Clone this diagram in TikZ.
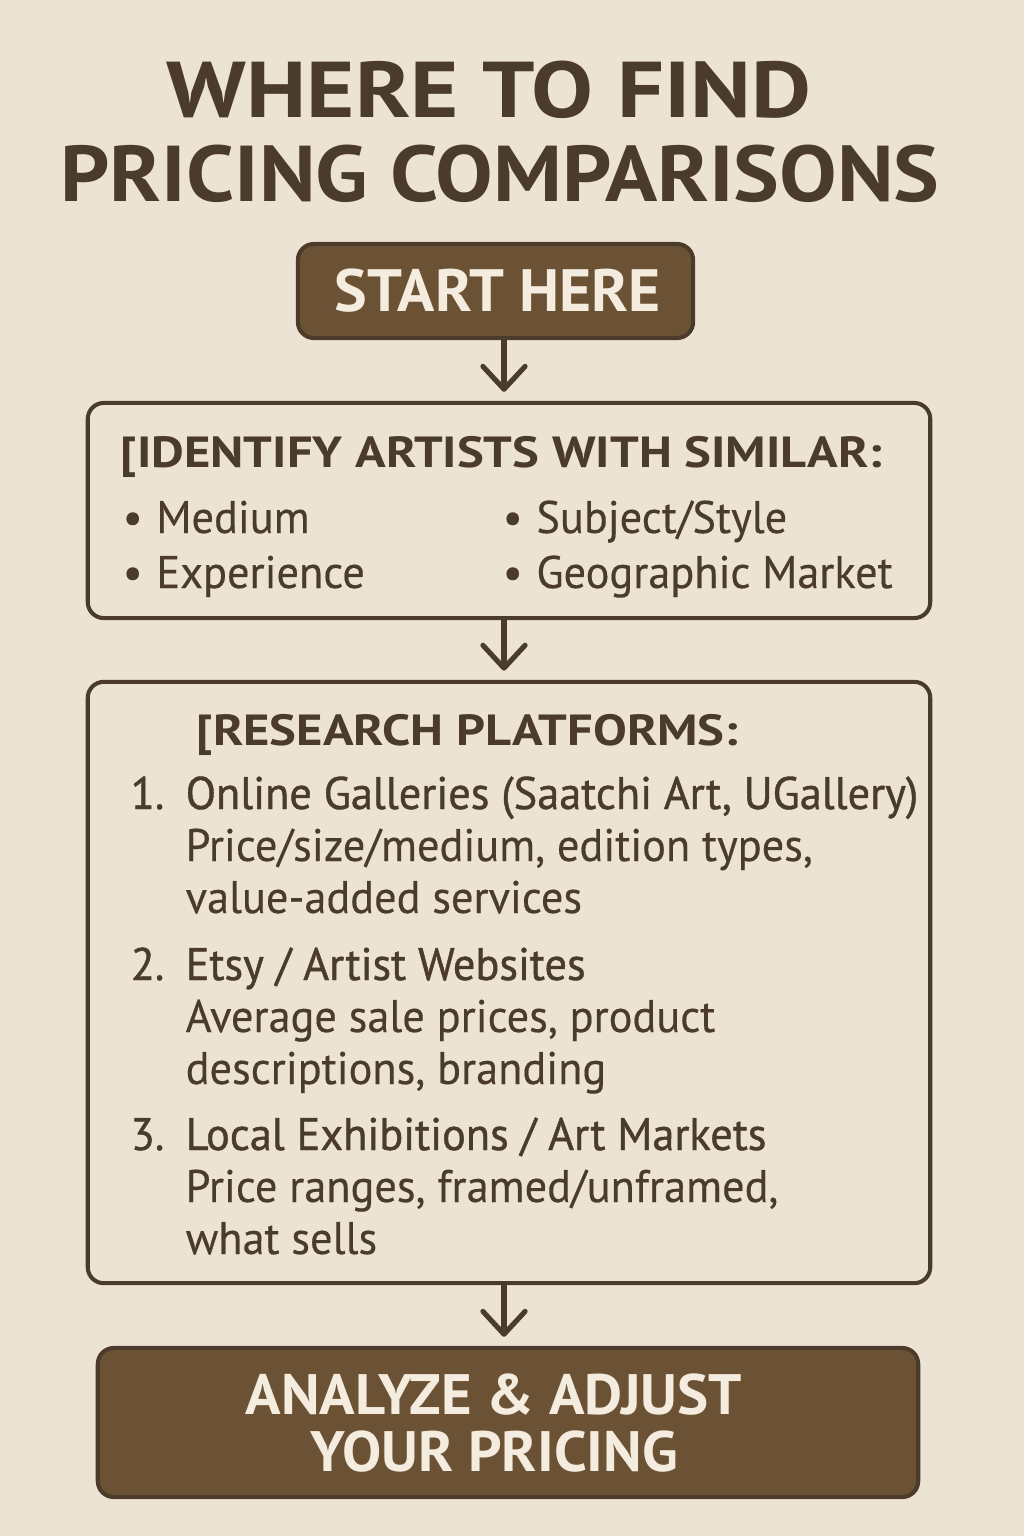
\documentclass[tikz,border=0pt]{standalone}
\usepackage{fontspec}
\setmainfont{PT Sans}
\newfontfamily\bodyfont{PT Sans}[FakeStretch=0.97, FakeBold=0.3]
\newfontfamily\itemfont{PT Sans}[FakeStretch=0.97, FakeBold=0.9]
\newfontfamily\headfont{PT Sans}[FakeStretch=1.16]
\newfontfamily\boxfont{PT Sans}[FakeStretch=1.03]
\newfontfamily\titlefontA{PT Sans}[FakeStretch=1.17]
\newfontfamily\titlefontB{PT Sans}[FakeStretch=1.09]
\usetikzlibrary{positioning,arrows.meta}

\definecolor{paper}{HTML}{EDE3D4}
\definecolor{ink}{HTML}{4A3B2A}
\definecolor{bark}{HTML}{6B5234}
\definecolor{cream}{HTML}{F4ECDE}

\tikzset{
  panel/.style={draw=ink, line width=1.15pt, rounded corners=0.16cm, fill=paper},
  darkpanel/.style={draw=ink, line width=1.15pt, rounded corners=0.16cm, fill=bark},
  boxtext/.style={text=cream, align=center, inner sep=0pt},
  titletext/.style={anchor=base, text=ink, inner sep=0pt},
  heading/.style={anchor=base west, text=ink, inner sep=0pt,
    font=\fontsize{12.4}{14}\selectfont\headfont\bfseries},
  bodytext/.style={anchor=base west, text=ink, inner sep=0pt,
    font=\fontsize{13}{15}\selectfont\bodyfont},
  itemtitle/.style={bodytext, font=\fontsize{13}{15}\selectfont\itemfont},
  flow/.style={draw=ink, line width=1.45pt, shorten >=2.6pt,
    -{Straight Barb[length=6.5pt, width=12pt, round]}}
}

\begin{document}
\begin{tikzpicture}[x=0.01cm, y=-0.01cm]
  \useasboundingbox (0,0) rectangle (1024,1536);
  \fill[paper] (0,0) rectangle (1024,1536);

  % title
  \node[titletext, font=\fontsize{22.5}{26}\selectfont\titlefontA\bfseries] (title1) at (489,117) {WHERE TO FIND};
  \node[titletext, font=\fontsize{22.5}{26}\selectfont\titlefontB\bfseries] (title2) at (500,201) {PRICING COMPARISONS};

  % boxes
  \node[darkpanel, minimum width=3.95cm, minimum height=0.94cm] (start) at (495.5,291) {};
  \node[boxtext, font=\fontsize{17}{20}\selectfont\boxfont\bfseries] (starttext) at (498,291) {START HERE};
  \node[panel, minimum width=8.42cm, minimum height=2.15cm] (similar) at (509,510.5) {};
  \node[panel, minimum width=8.42cm, minimum height=6.01cm] (platforms) at (509,982.5) {};
  \node[darkpanel, minimum width=8.20cm, minimum height=1.49cm] (analyze) at (508,1422.5) {};
  \node[boxtext, font=\fontsize{16.2}{16.2}\selectfont\boxfont\bfseries] (analyzetext) at (494,1423)
    {ANALYZE \& ADJUST\\YOUR PRICING};

  % similar artists
  \node[heading] (simhead) at (120,467) {[IDENTIFY ARTISTS WITH SIMILAR:};
  \node[bodytext] (medium) at (122,533) {•\hspace{0.3em}Medium};
  \node[bodytext] (experience) at (122,588) {•\hspace{0.3em}Experience};
  \node[bodytext] (subject) at (502,533) {•\hspace{0.3em}Subject/Style};
  \node[bodytext] (market) at (502,588) {•\hspace{0.3em}Geographic Market};

  % platforms
  \node[heading] (plathead) at (196,745) {[RESEARCH PLATFORMS:};
  \foreach \n/\y/\head/\descA/\descB in {
      1/809/{Online Galleries (Saatchi Art, UGallery)}/{Price/size/medium, edition types,}/{value-added services},
      2/980/{Etsy / Artist Websites}/{Average sale prices, product}/{descriptions, branding},
      3/1150/{Local Exhibitions / Art Markets}/{Price ranges, framed/unframed,}/{what sells}} {
    \node[itemtitle] (num\n) at (130,\y) {\n.};
    \node[itemtitle] (head\n) at (185,\y) {\head};
    \node[bodytext] (descA\n) at (185,\y+52) {\descA};
    \node[bodytext] (descB\n) at (185,\y+104) {\descB};
  }

  % connectors
  \coordinate (spine) at (504,0);
  \draw[flow] (start.south -| spine) -- (similar.north -| spine);
  \draw[flow] (similar.south -| spine) -- (platforms.north -| spine);
  \draw[flow] (platforms.south -| spine) -- (analyze.north -| spine);

\end{tikzpicture}
\end{document}
